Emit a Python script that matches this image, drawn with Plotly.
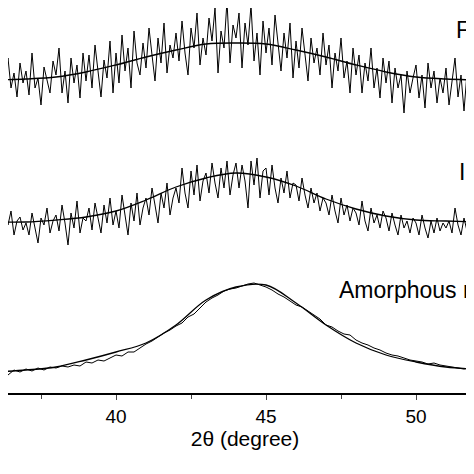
import numpy as np
import plotly.graph_objects as go

# smooth fits (x = 36..52 step 1)
fit_x = list(range(36, 53))
fit_top = [313, 314, 316, 321, 328, 336, 343, 349, 350, 349, 343, 336, 328, 321, 316, 314, 313]
fit_mid = [171, 171, 173, 176, 182, 193, 206, 215, 220, 216, 207, 194, 184, 177, 173, 172, 171]
fit_bot = [21, 23, 26, 33, 41, 50, 68, 93, 106, 108, 90, 68, 50, 38, 31, 26, 24]

top_vals = [
300,325,290,318,335,305,320,296,330,310,
322,298,340,305,315,288,326,312,300,332,
318,345,300,322,290,335,310,328,295,340,
312,338,305,348,320,296,333,315,352,300,
340,310,358,322,345,305,362,330,318,350,
325,365,338,312,355,330,370,320,348,335,
360,332,372,340,318,365,345,380,328,355,
338,375,352,385,320,362,345,392,330,368,
355,380,325,370,348,388,332,360,318,372,
340,365,328,378,350,322,360,335,370,315,
352,325,365,338,312,355,330,345,318,360,
328,348,305,340,322,355,315,332,300,345,
318,338,300,330,312,345,305,325,295,335,
310,332,290,325,305,318,280,322,300,315,
328,295,318,285,330,305,322,290,315,300,
325,288,310,335,296,318,282,320,305,328,
310]
mid_vals = [
165,178,160,175,168,182,158,172,176,163,
170,158,180,165,150,175,168,185,160,172,
178,162,188,170,148,180,165,192,160,175,
172,185,163,190,175,160,188,170,195,168,
182,165,198,178,158,190,172,200,168,185,
195,178,205,188,170,200,185,210,178,195,
205,190,225,200,185,222,198,228,192,212,
220,200,230,210,195,225,205,232,198,218,
230,205,228,212,185,232,208,235,195,222,
225,198,228,205,190,215,200,222,195,210,
208,192,215,198,185,205,190,200,182,195,
190,178,198,182,170,195,178,188,172,185,
180,168,192,172,162,185,170,178,165,182,
175,162,180,168,158,178,165,172,160,175,
170,158,178,165,155,172,160,175,162,170,
165,172,160,185,168,158,175,162,170,165,
172]
bot_vals = [
20,22,18,23,21, 24,22,25,23,26, 25,27,26,28,27, 31,30,33,32,35,
38,37,41,41,45, 49,52,56,60,63, 67,70,76,79,85, 91,95,98,102,104,
105,107,109,110,108, 106,103,99,96,92, 88,86,82,78,74, 68,66,62,59,58,
53,50,48,45,43, 40,38,37,35,33, 32,31,29,30,28, 27,26,25,24,25, 23]

x_fine = 36 + 0.1 * np.arange(len(top_vals))
x_bot = 36 + 0.2 * np.arange(len(bot_vals))

fig = go.Figure()
ln = dict(color="black", width=1)
for xs, ys in [(x_fine, top_vals), (x_fine, mid_vals), (x_bot, bot_vals)]:
    fig.add_trace(go.Scatter(x=xs, y=ys, mode="lines", line=ln, showlegend=False))
for ys in [fit_top, fit_mid, fit_bot]:
    fig.add_trace(go.Scatter(x=fit_x, y=ys, mode="lines", line=dict(color="black", width=1.3, shape="spline"), showlegend=False))

fnt = dict(family="Liberation Sans, Arial", size=23, color="black")
fig.add_annotation(x=51.25, y=363, text="Fe", showarrow=False, xanchor="left", font=fnt)
fig.add_annotation(x=51.35, y=221, text="In", showarrow=False, xanchor="left", font=fnt)
fig.add_annotation(x=47.37, y=103, text="Amorphous ribbon", showarrow=False, xanchor="left", font=fnt)

fig.update_layout(
    width=474, height=474, margin=dict(l=0, r=0, t=0, b=89),
    plot_bgcolor="white", paper_bgcolor="white",
    font=dict(family="Liberation Sans, Arial", color="black"),
    xaxis=dict(range=[36.4, 52.2], tickvals=[40, 45, 50], ticks="outside", ticklen=5,
               tickwidth=1, showline=True, linecolor="black", linewidth=1.5, showgrid=False,
               zeroline=False, tickfont=dict(size=19),
               minor=dict(tickvals=[37.5, 42.5, 47.5], ticks="outside", ticklen=4),
               title=dict(text="2θ (degree)", font=dict(size=21), standoff=4)),
    yaxis=dict(range=[0, 385], visible=False, showgrid=False, zeroline=False),
)
fig.write_html("out.html")
